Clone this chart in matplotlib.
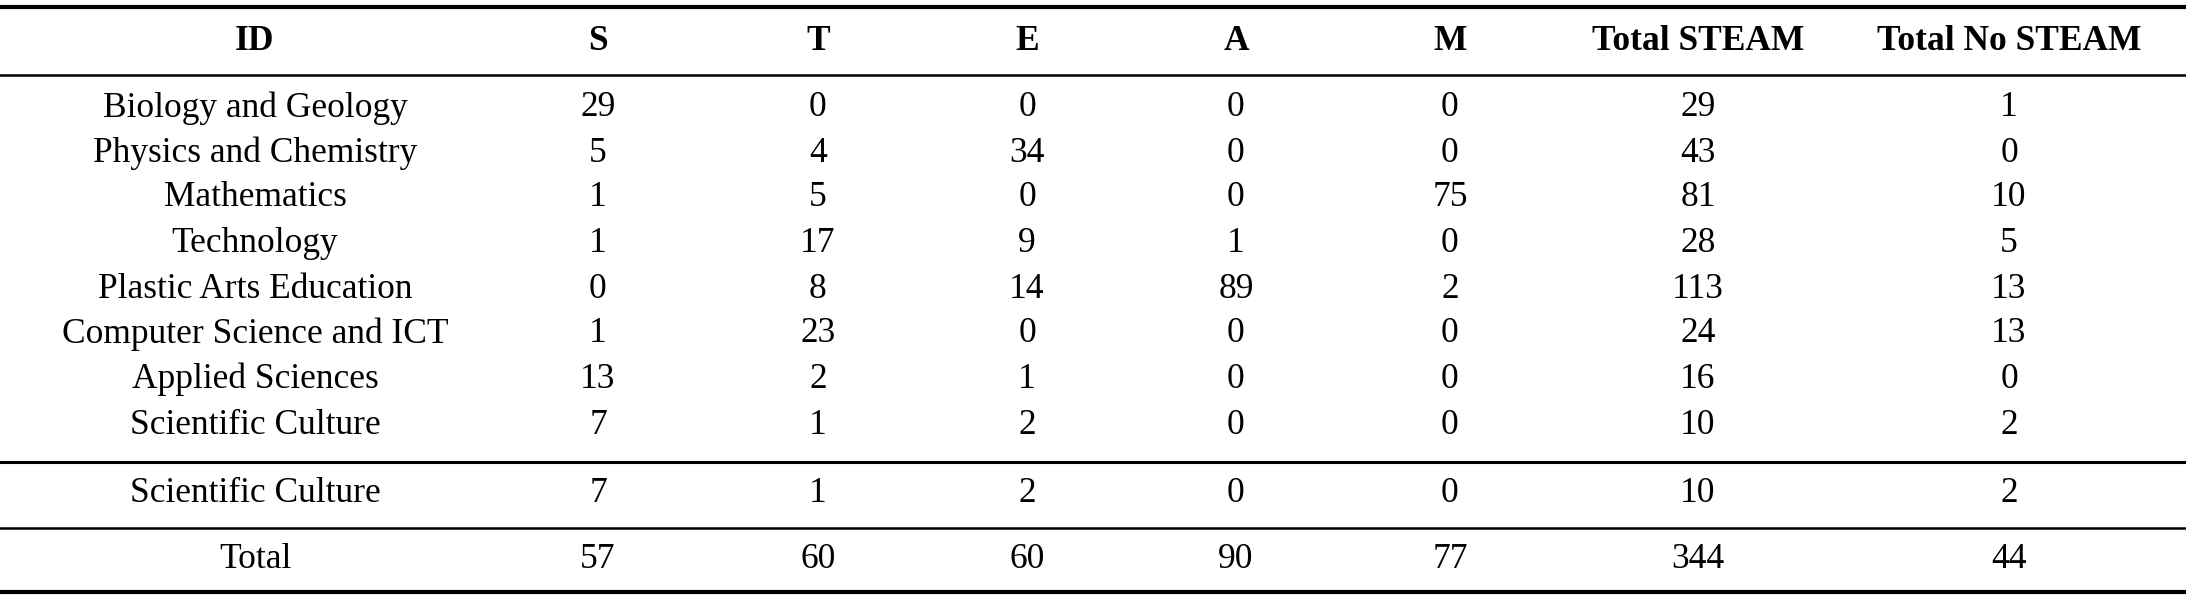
import matplotlib.pyplot as plt

columnas = ["ID", "S", "T", "E", "A", "M", "Total STEAM", "Total No STEAM"]
materias = [
    "Biology and Geology", "Physics and Chemistry", "Mathematics", "Technology",
    "Plastic Arts Education", "Computer Science and ICT", "Applied Sciences",
    "Scientific Culture",
]
valores = [
    [29, 0, 0, 0, 0, 29, 1],
    [5, 4, 34, 0, 0, 43, 0],
    [1, 5, 0, 0, 75, 81, 10],
    [1, 17, 9, 1, 0, 28, 5],
    [0, 8, 14, 89, 2, 113, 13],
    [1, 23, 0, 0, 0, 24, 13],
    [13, 2, 1, 0, 0, 16, 0],
    [7, 1, 2, 0, 0, 10, 2],
]
extra_nome = "Scientific Culture"
extra_valores = [7, 1, 2, 0, 0, 10, 2]
total_valores = [57, 60, 60, 90, 77, 344, 44]

W, H = 2186, 597
col_x = [255, 598, 818, 1027, 1236, 1450, 1698, 2009]
header_y = 41
row_y = [108, 153, 198, 243, 289, 334, 379, 425]
extra_y = 493
total_y = 559
rules = [(7, 3.0), (75, 1.8), (462, 2.2), (528, 1.8), (592, 3.0)]

fig = plt.figure(figsize=(W / 100, H / 100), dpi=100)
ax = fig.add_axes([0, 0, 1, 1])
ax.set_xlim(0, W)
ax.set_ylim(H, 0)
ax.axis("off")

fonte = dict(family="Liberation Serif", fontsize=25.5, ha="center", va="center")

for x, c in zip(col_x, columnas):
    ax.text(x, header_y, c, fontweight="bold", **fonte)

def linha(y, nome, vals):
    ax.text(col_x[0], y, nome, **fonte)
    for x, v in zip(col_x[1:], vals):
        ax.text(x, y, str(v), **fonte)

for y, nome, vals in zip(row_y, materias, valores):
    linha(y, nome, vals)
linha(extra_y, extra_nome, extra_valores)
linha(total_y, "Total", total_valores)

for y, lw in rules:
    ax.plot([0, W], [y, y], color="black", lw=lw)

fig.savefig("out.png", dpi=100)
